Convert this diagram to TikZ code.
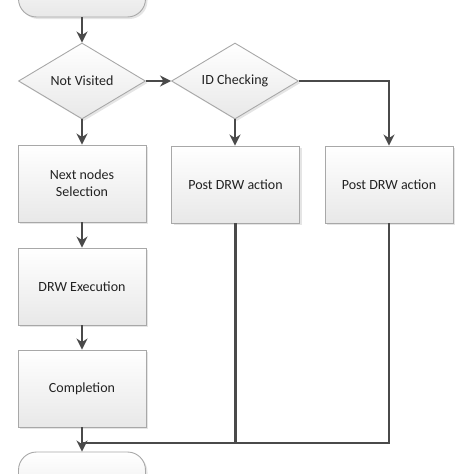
\documentclass[tikz,border=0pt]{standalone}
\usepackage{fontspec}
\setmainfont{Carlito}
\usetikzlibrary{shapes.geometric,arrows.meta,shadows}
\definecolor{linec}{HTML}{4A4A4A}
\definecolor{edgec}{HTML}{A8A8A8}
\definecolor{textc}{HTML}{222222}
\begin{document}
\begin{tikzpicture}[x=1pt,y=-1pt,
  base/.style={draw=edgec, line width=0.9pt, top color=white, bottom color=black!9, text=textc,
    font=\fontsize{14}{17}\selectfont, align=center, inner sep=0pt,
    drop shadow={shadow xshift=2pt, shadow yshift=-2pt, opacity=0.10, fill=black}},
  procbox/.style={base, rectangle, minimum width=128pt, minimum height=77pt},
  decbox/.style={base, diamond, minimum width=127pt, minimum height=76pt, shape aspect=1.67},
  termbox/.style={base, rectangle, rounded corners=18pt, minimum width=127pt, minimum height=60pt},
  conn/.style={draw=linec, line width=2.2pt},
  arr/.style={conn, -{Stealth[length=11pt, width=11pt, inset=3.5pt]}}
]
\useasboundingbox (0,0) rectangle (474,474);
\clip (0,0) rectangle (474,474);
\node[termbox] (top) at (82,-13) {};
\node[decbox] (d1) at (82,81) {Not Visited};
\node[decbox] (d2) at (235,81) {ID Checking};
\node[procbox] (next) at (82,183.5) {Next nodes\\Selection};
\node[procbox] (p1) at (235.5,184.5) {Post DRW action};
\node[procbox] (p2) at (389,184.5) {Post DRW action};
\node[procbox] (exec) at (82,286.5) {DRW Execution};
\node[procbox] (comp) at (82,388.5) {Completion};
\node[termbox] (bot) at (82,482) {};
\coordinate (j) at (82,443);
\draw[arr] (top) -- (d1);
\draw[arr] (d1) -- (d2);
\draw[arr] (d1) -- (next);
\draw[arr] (next) -- (exec);
\draw[arr] (exec) -- (comp);
\draw[arr] (comp) -- (bot);
\draw[arr] (d2) -- (d2 |- p1.north);
\draw[arr] (d2.east) -| (p2.north);
\draw[conn] (p1.south) -- (p1.south |- j);
\draw[conn] (p2.south) |- (j);
\end{tikzpicture}
\end{document}
